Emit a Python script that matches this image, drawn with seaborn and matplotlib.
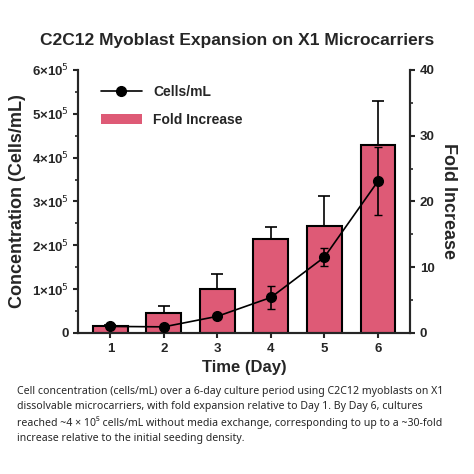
import matplotlib
matplotlib.use("Agg")
import matplotlib.pyplot as plt
import matplotlib.ticker as mticker
from matplotlib.lines import Line2D
from matplotlib.patches import Patch
import seaborn as sns
import pandas as pd

sns.set_style("ticks")
plt.rcParams['font.family'] = ['Liberation Sans', 'DejaVu Sans']

days = [1, 2, 3, 4, 5, 6]
fold = [1.0, 3.0, 6.7, 14.3, 16.2, 28.6]
fold_err = [0.2, 1.15, 2.3, 1.8, 4.7, 6.7]
cells = [1.5e4, 1.4e4, 3.8e4, 8.1e4, 1.73e5, 3.46e5]
cells_err = [3e3, 2e3, 4e3, 2.7e4, 2.0e4, 7.8e4]

bar_color = "#de5a76"

fig = plt.figure(figsize=(4.74, 4.74), dpi=100)
ax = fig.add_axes([0.165, 0.2975, 0.70, 0.555])
ax2 = ax.twinx()

df = pd.DataFrame({"day": days, "fold": fold})
sns.barplot(data=df, x="day", y="fold", ax=ax2, color=bar_color, edgecolor="black",
            linewidth=1.5, width=0.65, saturation=1, zorder=1)
ax2.errorbar(range(len(days)), fold, yerr=[[0]*6, fold_err], fmt="none", ecolor="black",
             elinewidth=1.2, capsize=4, capthick=1.2)
ax2.set_ylim(0, 40)
ax2.set_yticks([0, 10, 20, 30, 40])
ax2.set_ylabel("Fold Increase", fontsize=13, fontweight="bold", rotation=270, labelpad=16)
ax2.set_xlabel("")

# line on a separate axes drawn above bars
ax3 = ax.twinx()
ax3.set_ylim(0, 6e5)
ax3.axis("off")
ax3.errorbar(range(len(days)), cells, yerr=cells_err, fmt="-o", color="black", ms=7,
             lw=1.2, capsize=3, elinewidth=1.2)
ax.set_ylim(0, 6e5)
ax.set_xlim(-0.6, 5.6)
ax.set_yticks([0, 1e5, 2e5, 3e5, 4e5, 5e5, 6e5])
ax.set_yticklabels(["0", "1×10$^5$", "2×10$^5$", "3×10$^5$", "4×10$^5$", "5×10$^5$", "6×10$^5$"])
ax.yaxis.set_minor_locator(mticker.MultipleLocator(5e4))
ax2.yaxis.set_minor_locator(mticker.MultipleLocator(5))
ax.set_xticks(range(len(days)))
ax.set_xticklabels([str(d) for d in days])
ax.set_ylabel("Concentration (Cells/mL)", fontsize=13, fontweight="bold")
ax.set_xlabel("Time (Day)", fontsize=12, fontweight="bold")
for a in (ax, ax2):
    for s in a.spines.values():
        s.set_linewidth(1.5)
    a.tick_params(width=1.5, labelsize=9.5)
    a.tick_params(which="minor", width=1.2)
    for t in a.get_yticklabels() + a.get_xticklabels():
        t.set_fontweight("bold")
ax.spines["top"].set_visible(False)
ax2.spines["top"].set_visible(False)

handles = [Line2D([], [], color="black", marker="o", ms=7, lw=1.2),
           Patch(facecolor=bar_color, edgecolor="none")]
ax3.legend(handles, ["Cells/mL", "Fold Increase"], loc="upper left", frameon=False,
           prop={"weight": "bold", "size": 10}, handlelength=3, labelspacing=1.0,
           bbox_to_anchor=(0.03, 0.99))

fig.text(0.5, 0.905, "C2C12 Myoblast Expansion on X1 Microcarriers", ha="center",
         fontsize=12.5, fontweight="bold")
caption = ("Cell concentration (cells/mL) over a 6-day culture period using C2C12 myoblasts on X1\n"
           "dissolvable microcarriers, with fold expansion relative to Day 1. By Day 6, cultures\n"
           "reached ~4 × 10⁵ cells/mL without media exchange, corresponding to up to a ~30-fold\n"
           "increase relative to the initial seeding density.")
fig.text(0.035, 0.185, caption, ha="left", va="top", fontsize=7.6, linespacing=1.45,
         family=["Noto Sans", "DejaVu Sans"])

fig.savefig("out.png", dpi=100)
